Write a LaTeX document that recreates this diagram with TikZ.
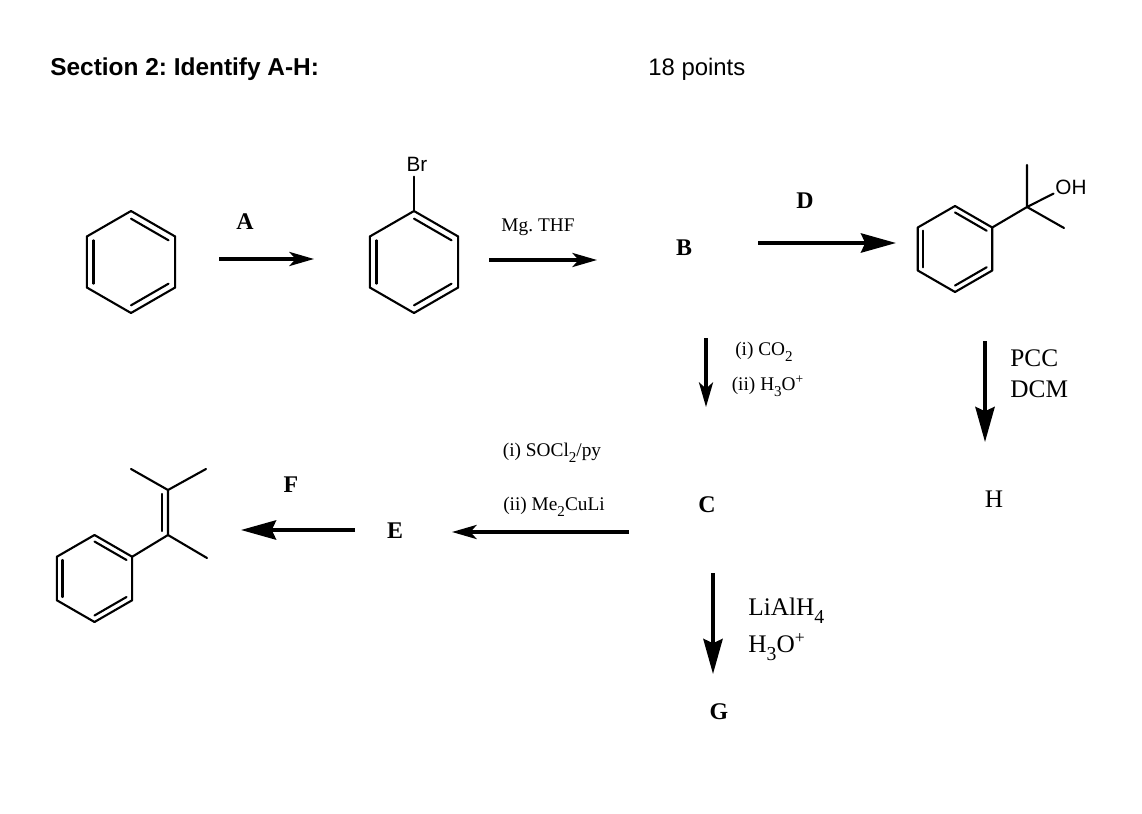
\documentclass[tikz,border=0pt]{standalone}
\usepackage{fontspec}
\setmainfont{Liberation Serif}
\newfontfamily\headfont{Liberation Sans}
\usetikzlibrary{arrows.meta}
\newcommand{\benzring}[3]{
    \begin{scope}[shift={(#2)}]
        \foreach \a in {-90,-30,30,90,150,210} {\coordinate (#1\a) at (\a:#3);}
        \draw[bond] (#1-90) -- (#1-30) -- (#130) -- (#190) -- (#1150) -- (#1210) -- cycle;
        \foreach \p/\q in {-90/-30,30/90,150/210} {\draw[bond] (\p:0.85*#3) -- (\q:0.85*#3);}
    \end{scope}
}
\newcommand{\low}[1]{\raisebox{-0.3em}{\scalebox{0.78}{#1}}}
\begin{document}
\frenchspacing
\begin{tikzpicture}[x=0.02cm,y=-0.02cm]
        \tikzstyle{every node}=[inner sep=0pt]
        \tikzstyle{bond}=[line width=1.2pt,line join=round,line cap=round]
        \tikzstyle{small arrow}=[line width=1.9pt,-{Stealth[length=14pt,width=8pt,inset=3.5pt]}]
        \tikzstyle{big arrow}=[line width=1.9pt,-{Stealth[length=20pt,width=11pt,inset=2.5pt]}]
        \tikzstyle{head}=[font=\headfont\bfseries\fontsize{13.9}{16}\selectfont]
        \tikzstyle{points}=[font=\headfont\fontsize{13.6}{16}\selectfont]
        \tikzstyle{atom}=[font=\headfont\fontsize{11.8}{14}\selectfont]
        \tikzstyle{letter}=[font=\bfseries\fontsize{13.6}{16}\selectfont]
        \tikzstyle{reagent}=[font=\fontsize{11}{13}\selectfont]
        \tikzstyle{bigreagent}=[font=\fontsize{14.4}{17}\selectfont]
        \useasboundingbox (0,0) rectangle (1142,814);
        % heading
        \node[head,anchor=west] (title) at (50,69) {Section 2: Identify A-H:};
        \node[points,anchor=west] (marks) at (648,69) {18 points};
        % molecules
        \benzring{p}{131,262}{51}
        \benzring{q}{414,262}{51}
        \node[atom] (Br) at (417,164) {Br};
        \draw[bond,shorten >=3pt] (q-90) -- (q-90 |- Br.south);
        \benzring{r}{955,249}{43}
        \coordinate (rc) at (1027,207);
        \coordinate (rm) at (1027,165);
        \coordinate (rn) at (1064,228);
        \node[atom] (OH) at (1071,187) {OH};
        \draw[bond] (r-30) -- (rc) -- (rm);
        \draw[bond] (rc) -- (rn);
        \draw[bond,shorten >=1pt] (rc) -- (OH.200);
        \benzring{s}{94.5,578.5}{43.5}
        \coordinate (sa) at (168,535);
        \coordinate (sb) at (168,490);
        \coordinate (sc) at (207,558);
        \coordinate (sd) at (131,469);
        \coordinate (se) at (206,469);
        \draw[bond] (s-30) -- (sa) -- (sb);
        \draw[bond] (sa) -- (sc);
        \draw[bond] (sd) -- (sb) -- (se);
        \draw[bond] (162,531) -- (162,494);
        % labels
        \node[letter] (A) at (245,222) {A};
        \node[letter] (B) at (684,248) {B};
        \node[letter] (C) at (707,505) {C};
        \node[letter] (D) at (805,201) {D};
        \node[letter] (E) at (395,531) {E};
        \node[letter] (F) at (291,485) {F};
        \node[letter] (G) at (719,712) {G};
        \node[bigreagent] (H) at (994,499) {H};
        \node[reagent] (mg) at (538,227) {Mg. THF};
        \node[reagent] (co) at (764,352) {(i) CO\low{2}};
        \node[reagent] (hy) at (768,386) {(ii) H\low{3}O\textsuperscript{+}};
        \node[reagent] (so) at (552,453) {(i) SOCl\low{2}/py};
        \node[reagent] (me) at (554,507) {(ii) Me\low{2}CuLi};
        \node[bigreagent,anchor=west] (pcc) at (1010,358) {PCC};
        \node[bigreagent,anchor=west] (dcm) at (1010,389) {DCM};
        \node[bigreagent,anchor=west] (li) at (748,611) {LiAlH\low{4}};
        \node[bigreagent,anchor=west] (hz) at (748,647) {H\low{3}O\textsuperscript{+}};
        % arrows
        \coordinate (a1) at (219,259); \coordinate (a2) at (314,259);
        \coordinate (b1) at (489,260); \coordinate (b2) at (597,260);
        \coordinate (c1) at (706,338); \coordinate (c2) at (706,407);
        \coordinate (e1) at (629,532); \coordinate (e2) at (452,532);
        \coordinate (d1) at (758,243); \coordinate (d2) at (896,243);
        \coordinate (h1) at (985,341); \coordinate (h2) at (985,442);
        \coordinate (f1) at (355,530); \coordinate (f2) at (241,530);
        \coordinate (g1) at (713,573); \coordinate (g2) at (713,674);
        \draw[small arrow] (a1) -- (a2);
        \draw[small arrow] (b1) -- (b2);
        \draw[small arrow] (c1) -- (c2);
        \draw[small arrow] (e1) -- (e2);
        \draw[big arrow] (d1) -- (d2);
        \draw[big arrow] (h1) -- (h2);
        \draw[big arrow] (f1) -- (f2);
        \draw[big arrow] (g1) -- (g2);
    \end{tikzpicture}
\end{document}
